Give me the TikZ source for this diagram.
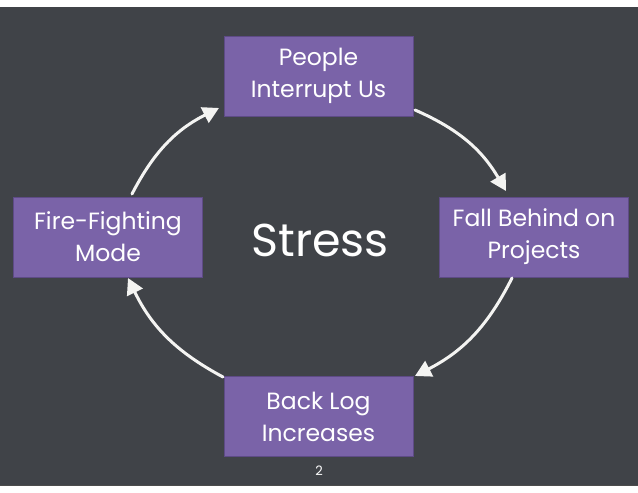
\documentclass[tikz,border=0pt]{standalone}
\usepackage{fontspec}
\setmainfont{Poppins}
\usetikzlibrary{arrows.meta}
\definecolor{board}{HTML}{404348}
\definecolor{boxfill}{HTML}{7A63A8}
\definecolor{boxline}{HTML}{5E4B86}
\definecolor{chalk}{HTML}{F4F4F2}
\tikzset{
  cyclebox/.style={fill=boxfill, draw=boxline, line width=0.8pt, minimum width=189pt, minimum height=80pt,
    inner sep=0pt, text=white, align=center, font=\fontsize{23.5}{32}\selectfont},
  chalkarrow/.style={draw=chalk, line width=3pt, line cap=round,
    -{Triangle[length=16pt,width=17pt]}, bend left=18}
}
\begin{document}
\begin{tikzpicture}[x=1pt,y=1pt]
\useasboundingbox (0,0) rectangle (638,493);
\fill[white] (0,0) rectangle (638,493);
\fill[board] (0,7) rectangle (638,486);
\draw[black!70, line width=0.6pt] (0,7.5) -- (638,7.5);
\node[cyclebox] (people) at (318.5,417) {People\\Interrupt Us};
\node[cyclebox] (fire) at (108,256) {Fire-Fighting\\Mode};
\node[cyclebox] (fall) at (534,256) {Fall Behind on\\Projects};
\node[cyclebox] (back) at (318.5,76.5) {Back Log\\Increases};
\node[text=white, font=\fontsize{46}{50}\selectfont] (stress) at (320,253) {Stress};
\node[text=white, font=\fontsize{13}{15}\selectfont] (page) at (319,22) {2};
\coordinate (a1s) at (132,299);
\coordinate (a1e) at (219,385);
\coordinate (a2s) at (415,383);
\coordinate (a2e) at (506,302);
\coordinate (a3s) at (512,215);
\coordinate (a3e) at (415,117);
\coordinate (a4s) at (223,116);
\coordinate (a4e) at (128,215);
\draw[chalkarrow] (a1s) to (a1e);
\draw[chalkarrow] (a2s) to (a2e);
\draw[chalkarrow] (a3s) to (a3e);
\draw[chalkarrow] (a4s) to (a4e);
\end{tikzpicture}
\end{document}
